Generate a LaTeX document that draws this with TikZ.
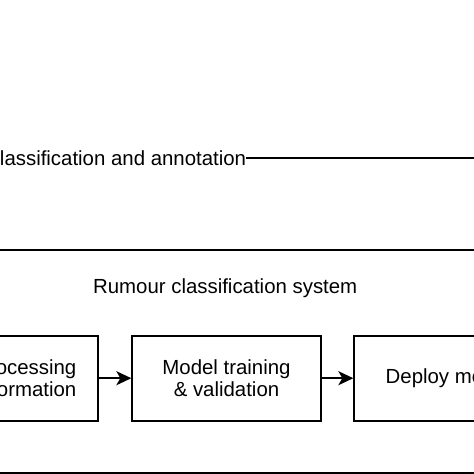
\documentclass[tikz,border=0pt]{standalone}
\usepackage{fontspec}
\setmainfont{Liberation Sans}
\usetikzlibrary{arrows.meta,positioning}
\tikzset{frame/.style={draw,line width=2pt}}
\tikzset{stagebox/.style={draw,line width=1.9pt,minimum width=188.4pt,minimum height=85pt,inner sep=0pt}}
\tikzset{stagetext/.style={font=\fontsize{20.4}{22.7}\selectfont,inner sep=0pt}}
\tikzset{flow/.style={-{Stealth[length=15pt,width=14pt,inset=4pt]},line width=1.9pt}}

\begin{document}
\begin{tikzpicture}[x=1pt,y=-1pt]
  \useasboundingbox (0,0) rectangle (474,474);
  \clip (0,0) rectangle (474,474);

  \node[stagetext,anchor=base east] (annot) at (246.3,165.7) {lassification and annotation};
  \coordinate (annotend) at (480,0);
  \draw[frame] (annot.east) -- (annot.east -| annotend);

  \draw[frame] (-10,250) rectangle (484,472.7);
  \node[stagetext,anchor=base] (system) at (225.2,293.3) {Rumour classification system};

  \node[stagebox] (prep) at (3.8,378.2) {};
  \node[stagebox,align=center,stagetext] (train) at (226.5,378.2) {Model training\\ \& validation};
  \node[stagebox] (deploy) at (448.5,378.2) {};
  \node[stagetext,align=right,anchor=east] (preptext) at (76.5,378.2) {ocessing\\ormation};
  \node[stagetext,anchor=west] (deploytext) at (385.5,378.2) {Deploy mo};

  \draw[flow] (prep) -- (train);
  \draw[flow] (train) -- (deploy);
\end{tikzpicture}
\end{document}
